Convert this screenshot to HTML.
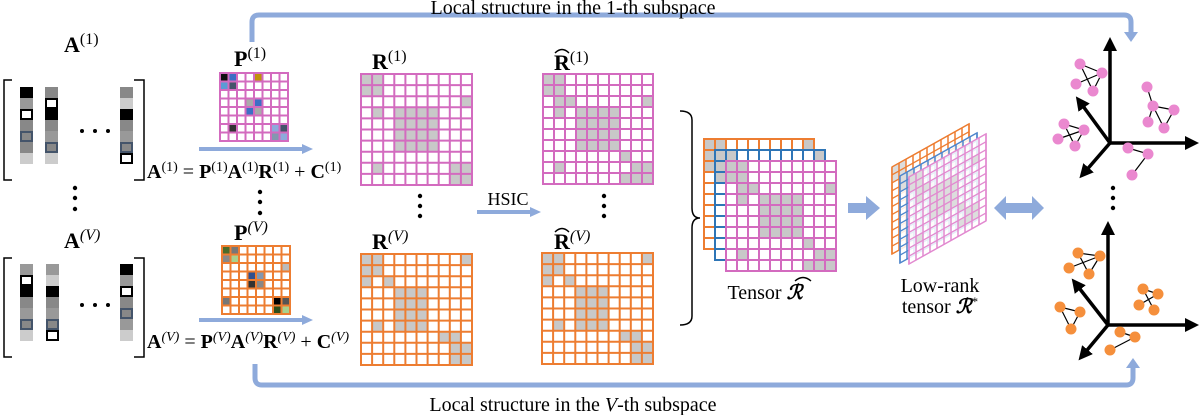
<!DOCTYPE html>
<html><head><meta charset="utf-8">
<style>
html,body{margin:0;padding:0;background:#fff;width:1200px;height:415px;overflow:hidden}
svg text{font-family:"Liberation Serif",serif}
.b{font-weight:bold}
</style></head><body>
<svg id="s" width="1200" height="415" viewBox="0 0 1200 415" xmlns="http://www.w3.org/2000/svg">
<defs>
<marker id="ah" markerWidth="4" markerHeight="4" refX="2" refY="2" orient="auto" markerUnits="strokeWidth"><path d="M0,0 L4,2 L0,4 z" fill="#000"/></marker>
</defs>
<path d="M252,42 V22 Q252,15 259,15 H1124 Q1131,15 1131,22 V32" fill="none" stroke="#8eaadb" stroke-width="5"/>
<path d="M1124,32 L1138,32 L1131,42 z" fill="#8eaadb"/>
<path d="M255,364 V378 Q255,385 262,385 H1126 Q1133,385 1133,378 V368" fill="none" stroke="#8eaadb" stroke-width="5"/>
<path d="M1126,368 L1140,368 L1133,358 z" fill="#8eaadb"/>
<text x="573" y="14" font-size="20" text-anchor="middle">Local structure in the 1-th subspace</text>
<text x="573" y="411" font-size="20" text-anchor="middle">Local structure in the <tspan font-style="italic">V</tspan>-th subspace</text>

<text x="64" y="52" font-size="22" class="b">A<tspan dy="-8" font-size="16" font-weight="normal">(1)</tspan></text>
<text x="64" y="248" font-size="22" class="b">A<tspan dy="-8" font-size="16" font-weight="normal" font-style="italic">(V)</tspan></text>
<text x="234" y="66" font-size="22" class="b">P<tspan dy="-8" font-size="16" font-weight="normal">(1)</tspan></text>
<text x="234" y="240" font-size="22" class="b">P<tspan dy="-8" font-size="16" font-weight="normal" font-style="italic">(V)</tspan></text>
<text x="372" y="69" font-size="22" class="b">R<tspan dy="-8" font-size="16" font-weight="normal">(1)</tspan></text>
<text x="372" y="249" font-size="22" class="b">R<tspan dy="-8" font-size="16" font-weight="normal" font-style="italic">(V)</tspan></text>
<text x="554" y="70" font-size="22" class="b">R<tspan dy="-8" font-size="16" font-weight="normal">(1)</tspan></text>
<text x="554" y="249" font-size="22" class="b">R<tspan dy="-8" font-size="16" font-weight="normal" font-style="italic">(V)</tspan></text>
<path d="M555,53 Q562,46 569,53" fill="none" stroke="#000" stroke-width="1.4"/>
<path d="M555,232 Q562,225 569,232" fill="none" stroke="#000" stroke-width="1.4"/>
<text x="147" y="178" font-size="20"><tspan class="b">A</tspan><tspan dy="-7" font-size="14">(1)</tspan><tspan dy="7"> = </tspan><tspan class="b">P</tspan><tspan dy="-7" font-size="14">(1)</tspan><tspan dy="7" class="b">A</tspan><tspan dy="-7" font-size="14">(1)</tspan><tspan dy="7" class="b">R</tspan><tspan dy="-7" font-size="14">(1)</tspan><tspan dy="7"> + </tspan><tspan class="b">C</tspan><tspan dy="-7" font-size="14">(1)</tspan></text>
<text x="147" y="348" font-size="20"><tspan class="b">A</tspan><tspan dy="-7" font-size="14" font-style="italic">(V)</tspan><tspan dy="7"> = </tspan><tspan class="b">P</tspan><tspan dy="-7" font-size="14" font-style="italic">(V)</tspan><tspan dy="7" class="b">A</tspan><tspan dy="-7" font-size="14" font-style="italic">(V)</tspan><tspan dy="7" class="b">R</tspan><tspan dy="-7" font-size="14" font-style="italic">(V)</tspan><tspan dy="7"> + </tspan><tspan class="b">C</tspan><tspan dy="-7" font-size="14" font-style="italic">(V)</tspan></text>

<path d="M199,149 H304" stroke="#8eaadb" stroke-width="4"/><path d="M302,144 L313,149 L302,154 z" fill="#8eaadb"/>
<path d="M199,320 H304" stroke="#8eaadb" stroke-width="4"/><path d="M302,315 L313,320 L302,325 z" fill="#8eaadb"/>
<text x="508" y="205" font-size="18" text-anchor="middle">HSIC</text>
<path d="M477,212 H532" stroke="#8eaadb" stroke-width="4"/><path d="M530,207 L541,212 L530,217 z" fill="#8eaadb"/>

<g fill="none" stroke="#000" stroke-width="1.5">
<path d="M12,80 H4 V180 H12"/><path d="M134,80 H144 V180 H134"/>
<path d="M12,258 H4 V357 H12"/><path d="M134,258 H144 V357 H134"/>
<path d="M680,111 Q692,111 692,120 V208 Q692,218 700,218 Q692,218 692,228 V316 Q692,325 680,325"/>
</g>
<g id="dots" fill="#000"></g>

<path d="M848,203 H866 V196 L880,208 L866,220 V213 H848 z" fill="#8eaadb"/>
<path d="M994,208 L1006,196 V203 H1032 V196 L1044,208 L1032,220 V213 H1006 V220 z" fill="#8eaadb"/>

<text x="765" y="299" font-size="20" text-anchor="middle">Tensor  <tspan font-weight="bold" font-style="italic">ℛ</tspan></text>
<path d="M795,281 Q803,274 811,281" fill="none" stroke="#000" stroke-width="1.4"/>
<text x="940" y="292" font-size="20" text-anchor="middle">Low-rank</text>
<text x="940" y="313" font-size="20" text-anchor="middle">tensor <tspan font-weight="bold" font-style="italic">ℛ</tspan><tspan dy="-7" font-size="13">*</tspan></text>

<g id="g"></g>
</svg>
<script>
var S='http://www.w3.org/2000/svg',G=document.getElementById('g');
function el(t,a,p){var e=document.createElementNS(S,t);for(var k in a)e.setAttribute(k,a[k]);(p||G).appendChild(e);return e;}
var PK='#d36bbf',OR='#ed7d31',BL='#2e75b6',GR='#c8c8c8';
function grid(x,y,w,n,col,fills,sw){var c=w/n;
 el('rect',{x:x,y:y,width:w,height:w,fill:'#fff',stroke:col,'stroke-width':sw||2});
 for(var k in fills){var p=k.split(',');el('rect',{x:x+p[1]*c,y:y+p[0]*c,width:c,height:c,fill:fills[k]});}
 for(var i=0;i<=n;i++){el('line',{x1:x+i*c,y1:y,x2:x+i*c,y2:y+w,stroke:col,'stroke-width':sw||2});el('line',{x1:x,y1:y+i*c,x2:x+w,y2:y+i*c,stroke:col,'stroke-width':sw||2});}
}
function F(list,c){var o={};list.forEach(function(p){o[p[0]+','+p[1]]=p[2]||c;});return o;}
var Rp=[[0,0],[0,1],[1,0],[1,1],[2,9],[3,1],[3,3],[3,4],[3,5],[3,6],[4,3],[4,4],[4,5],[4,6],[5,3],[5,4],[5,5],[5,6],[6,3],[6,4],[6,5],[6,6],[8,1],[8,8],[8,9],[9,8],[9,9]];
var Rh=[[0,0],[0,1],[1,0],[1,1],[2,1],[2,2],[2,9],[3,1],[3,3],[3,4],[3,5],[3,6],[4,3],[4,4],[4,5],[4,6],[5,3],[5,4],[5,5],[5,6],[6,3],[6,4],[6,5],[6,6],[7,7],[8,1],[8,8],[8,9],[9,7],[9,8],[9,9]];
var Rv=[[0,0],[0,1],[0,9],[1,0],[1,1],[2,0],[2,2],[3,3],[3,4],[3,5],[4,3],[4,4],[4,5],[5,3],[5,4],[5,5],[6,1],[6,3],[6,4],[6,5],[7,7],[7,8],[8,8],[8,9],[9,8],[9,9]];
grid(220,73,68,8,PK,F([[0,0,'#111'],[0,1,'#3d6fc4'],[0,4,'#c0900a'],[1,0,'#5b9bd5'],[1,1,'#44546a'],[3,3,'#aaa'],[3,4,'#3d6fc4'],[4,3,'#3d6fc4'],[4,4,'#aaa'],[6,1,'#333'],[6,6,'#8eaadb'],[6,7,'#44546a'],[7,6,'#8497b0'],[7,7,'#8eaadb']]));
grid(222,246,68,8,OR,F([[0,0,'#4a6b2a'],[0,1,'#777'],[1,0,'#888'],[1,1,'#a9d18e'],[2,7,'#bbb'],[3,3,'#2f4f8f'],[3,4,'#8497b0'],[4,3,'#333'],[4,4,'#888'],[6,0,'#777'],[6,6,'#000'],[6,7,'#555'],[7,6,'#2e4d1a'],[7,7,'#a9d18e']]));
grid(361,74,111,10,PK,F(Rp,GR));
grid(361,254,111,10,OR,F(Rv,GR));
grid(543,74,110,10,PK,F(Rh,GR));
grid(542,253,111,10,OR,F(Rv,GR));
grid(704,139,110,10,OR,F(Rv,GR));
grid(715,150,110,10,BL,F(Rv,GR));
grid(726,161,110,10,PK,F(Rh,GR));
function skew(ox,oy,col,n){var g=el('g',{transform:'matrix(1,0,0,1,'+ox+','+oy+') matrix(1,-0.56,0,1,0,0)'});
 var w=77,h=87,cw=w/n,ch=h/n;
 el('rect',{x:0,y:0,width:w,height:h,fill:'rgba(255,255,255,0.85)',stroke:col,'stroke-width':1.5},g);
 Rh.forEach(function(p){el('rect',{x:p[1]*cw,y:p[0]*ch,width:cw,height:ch,fill:'#ddd'},g);});
 for(var i=0;i<=n;i++){el('line',{x1:i*cw,y1:0,x2:i*cw,y2:h,stroke:col,'stroke-width':1.5},g);el('line',{x1:0,y1:i*ch,x2:w,y2:i*ch,stroke:col,'stroke-width':1.5},g);}
}
skew(892,167,OR,11);skew(900,176,'#4f86cc',11);skew(909,177,'#e28ad0',11);
function col(x,y,cells){cells.forEach(function(c,i){var yy=y+i*11;
 if(c[1]) el('rect',{x:x+1,y:yy+1,width:11,height:9,fill:c[0],stroke:c[1],'stroke-width':2});
 else el('rect',{x:x,y:yy,width:13,height:11,fill:c[0]});});}
col(20,87,[['#000'],['#999'],['#fff','#000'],['#888'],['#888','#44546a'],['#888'],['#ccc']]);
col(45,87,[['#888'],['#fff','#000'],['#000'],['#888'],['#999'],['#888','#44546a'],['#ccc']]);
col(120,87,[['#888'],['#ccc'],['#000'],['#888'],['#999'],['#888','#44546a'],['#fff','#000']]);
col(20,264,[['#999'],['#fff','#000'],['#000'],['#888'],['#999'],['#888','#44546a'],['#ccc']]);
col(46,264,[['#999'],['#ccc'],['#000'],['#888'],['#999'],['#888','#44546a'],['#fff','#000']]);
col(120,264,[['#000'],['#999'],['#fff','#000'],['#888'],['#888','#44546a'],['#999'],['#ccc']]);
var D=document.getElementById('dots');
[[82,131],[95,131],[108,131],[82,305],[95,305],[108,305]].forEach(function(p){el('circle',{cx:p[0],cy:p[1],r:2},D);});
[[75,188],[75,198],[75,209],[260,192],[260,202],[260,213],[420,196],[420,206],[420,216],[604,196],[604,206],[604,216],[1113,188],[1113,198],[1113,208]].forEach(function(p){el('circle',{cx:p[0],cy:p[1],r:2.2},D);});
function axes(o,tips){tips.forEach(function(t){el('line',{x1:o[0],y1:o[1],x2:t[0],y2:t[1],stroke:'#000','stroke-width':3.5,'marker-end':'url(#ah)'});});}
axes([1110,143],[[1110,44],[1192,143],[1080,102],[1084,173]]);
axes([1108,325],[[1108,228],[1192,325],[1076,284],[1083,355]]);
function grp(pts,edges,c){edges.forEach(function(e){el('line',{x1:pts[e[0]][0],y1:pts[e[0]][1],x2:pts[e[1]][0],y2:pts[e[1]][1],stroke:'#000','stroke-width':1.2});});
 pts.forEach(function(p){el('circle',{cx:p[0],cy:p[1],r:5.5,fill:c});});}
var P='#ea88cf',O='#f58f3c';
grp([[1080,64],[1102,73],[1076,84],[1093,91]],[[0,3],[1,2],[0,1],[1,3]],P);
grp([[1147,87],[1153,106],[1174,110],[1148,122],[1164,128]],[[0,1],[1,2],[1,3],[1,4],[2,4]],P);
grp([[1064,124],[1084,130],[1058,139],[1075,146]],[[0,1],[0,3],[2,1],[1,3]],P);
grp([[1128,148],[1148,154],[1132,175]],[[0,1],[1,2]],P);
grp([[1078,253],[1100,256],[1069,268],[1089,274]],[[0,3],[1,2],[0,1],[1,3]],O);
grp([[1060,307],[1080,312],[1071,329]],[[0,1],[0,2],[1,2]],O);
grp([[1143,289],[1158,294],[1139,305],[1154,310]],[[0,1],[1,2],[0,3]],O);
grp([[1120,332],[1135,337],[1110,350]],[[0,1],[1,2]],O);
</script>
</body></html>
